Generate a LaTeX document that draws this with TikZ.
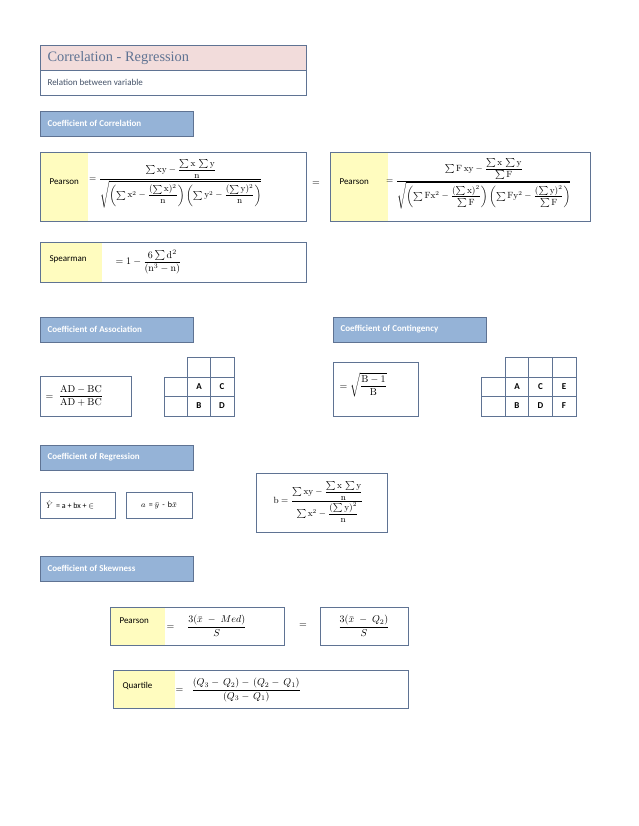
\documentclass[tikz,border=0pt]{standalone}
\usepackage{amsmath}
\usepackage{fontspec}
\setsansfont{Carlito}
\newfontfamily\titlefont{Liberation Serif}
\begin{document}
\begin{tikzpicture}[x=1pt,y=-1pt]
\definecolor{hblue}{HTML}{95B3D7}
\definecolor{bord}{HTML}{5F7393}
\definecolor{pink}{HTML}{F2DCDB}
\tikzset{bx/.style={draw=bord,line width=0.7pt},
  hdr/.style={draw=bord,fill=hblue,line width=0.7pt},
  cell/.style={draw=bord,line width=0.6pt},
  yel/.style={fill=yellow!25},
  lbl/.style={font=\sffamily,anchor=west},
  hlbl/.style={font=\sffamily\bfseries\small,text=white,anchor=west},
  ctext/.style={font=\sffamily\bfseries\small}}
\useasboundingbox (0,0) rectangle (638,826);
% title
\fill[pink] (40,45) rectangle (306,70);
\draw[bx] (40,45) rectangle (306,95); \draw[bx] (40,70) -- (306,70);
\node[anchor=west,font=\titlefont\Large,text=bord] (t) at (44,58) {Correlation - Regression};
\node[lbl,font=\sffamily\small,text=bord!70!black] (t2) at (44,82) {Relation between variable};
% headers
\foreach \y/\t/\n in {111/Coefficient of Correlation/h1,317/Coefficient of Association/h2,445/Coefficient of Regression/h3,556/Coefficient of Skewness/h4}{
  \draw[hdr] (40,\y) rectangle (193,\y+25);
  \node[hlbl] (\n) at (44,\y+12) {\t};}
\draw[hdr] (333,317) rectangle (486,342);
\node[hlbl] (h5) at (337,329) {Coefficient of Contingency};
% Pearson 1
\fill[yel] (40,152) rectangle (88,221);
\draw[bx] (40,152) rectangle (306,221);
\node[lbl,font=\sffamily\small] (p1) at (46,182) {Pearson};
\node[anchor=west,font=\small,inner sep=1pt] (p1f) at (88,184) {$=\dfrac{\sum\mathrm{xy}-\dfrac{\sum\mathrm{x}\,\sum\mathrm{y}}{\mathrm{n}}}{\sqrt{\left(\sum\mathrm{x}^2-\dfrac{(\sum\mathrm{x})^2}{\mathrm{n}}\right)\left(\sum\mathrm{y}^2-\dfrac{(\sum\mathrm{y})^2}{\mathrm{n}}\right)}}$};
\node (eq1) at (316,184) {$=$};
% Pearson 2
\fill[yel] (330,152) rectangle (388,221);
\draw[bx] (330,152) rectangle (590,221);
\node[lbl,font=\sffamily\small] (p2) at (336,182) {Pearson};
\node[anchor=west,font=\small,inner sep=1pt] (p2f) at (385,184) {$=\dfrac{\sum\mathrm{F\,xy}-\dfrac{\sum\mathrm{x}\,\sum\mathrm{y}}{\sum\mathrm{F}}}{\sqrt{\left(\sum\mathrm{Fx}^2-\dfrac{(\sum\mathrm{x})^2}{\sum\mathrm{F}}\right)\left(\sum\mathrm{Fy}^2-\dfrac{(\sum\mathrm{y})^2}{\sum\mathrm{F}}\right)}}$};
% Spearman
\fill[yel] (40,242) rectangle (102,282);
\draw[bx] (40,242) rectangle (306,282);
\node[lbl,font=\sffamily\small] (sp) at (46,259) {Spearman};
\node[anchor=west] (spf) at (112,262) {$=1-\dfrac{6\sum\mathrm{d}^2}{(\mathrm{n}^3-\mathrm{n})}$};
% association
\draw[bx] (40,376) rectangle (131,416);
\node[anchor=west] (af) at (42,396) {$=\;\dfrac{\mathrm{AD}-\mathrm{BC}}{\mathrm{AD}+\mathrm{BC}}$};
\draw[cell] (187,357) rectangle (234,377) (210.5,357)--(210.5,377);
\draw[cell] (164,377) rectangle (234,416) (164,396.5)--(234,396.5) (187,377)--(187,416) (210.5,377)--(210.5,416);
\node[ctext] (cA) at (199,387) {A};
\node[ctext] (cC) at (222,387) {C};
\node[ctext] (cB) at (199,406) {B};
\node[ctext] (cD) at (222,406) {D};
% contingency
\draw[bx] (333,362) rectangle (418,416);
\node[anchor=west] (cf) at (336,385) {$=\sqrt{\dfrac{\mathrm{B}-1}{\mathrm{B}}}$};
\draw[cell] (505,357) rectangle (576,377) (528.7,357)--(528.7,377) (552.3,357)--(552.3,377);
\draw[cell] (481,377) rectangle (576,416) (481,396.5)--(576,396.5);
\foreach \x in {505,528.7,552.3} \draw[cell] (\x,377)--(\x,416);
\node[ctext] (dA) at (517,387) {A};
\node[ctext] (dC) at (540.5,387) {C};
\node[ctext] (dE) at (564,387) {E};
\node[ctext] (dB) at (517,406) {B};
\node[ctext] (dD) at (540.5,406) {D};
\node[ctext] (dF) at (564,406) {F};
% regression
\draw[bx] (40,492) rectangle (115,518);
\node[anchor=west,font=\sffamily\footnotesize,inner sep=1pt] (yh) at (45,505) {$\hat{Y}$ \,= a + bx + $\in$};
\draw[bx] (126,492) rectangle (192,518);
\node[anchor=west,font=\sffamily\footnotesize,inner sep=1pt] (ab) at (140,505) {$a$ \,= $\bar{y}$ \,- \,b$\bar{x}$};
\draw[bx] (256,473) rectangle (387,532);
\node[anchor=west,font=\small] (bf) at (270,502) {$\mathrm{b}=\dfrac{\sum\mathrm{xy}-\dfrac{\sum\mathrm{x}\,\sum\mathrm{y}}{\mathrm{n}}}{\sum\mathrm{x}^2-\dfrac{(\sum\mathrm{y})^2}{\mathrm{n}}}$};
% skewness
\fill[yel] (110,607) rectangle (165,645);
\draw[bx] (110,607) rectangle (284,645);
\node[lbl,font=\sffamily\small] (sk) at (116,621) {Pearson};
\node[anchor=west] (skf) at (163,626) {$=\quad\dfrac{3(\bar{x}\;-\;Med)}{S}$};
\node (eq2) at (303,626) {$=$};
\draw[bx] (320,607) rectangle (408,645);
\node (skf2) at (364,626) {$\dfrac{3(\bar{x}\;-\;Q_2)}{S}$};
\fill[yel] (113,670) rectangle (175,708);
\draw[bx] (113,670) rectangle (408,708);
\node[lbl,font=\sffamily\small] (qt) at (119,686) {Quartile};
\node[anchor=west] (qf) at (172,690) {$=\;\;\dfrac{(Q_3-\,Q_2)-\,(Q_2-\,Q_1)}{(Q_3-\,Q_1)}$};
\end{tikzpicture}
\end{document}
